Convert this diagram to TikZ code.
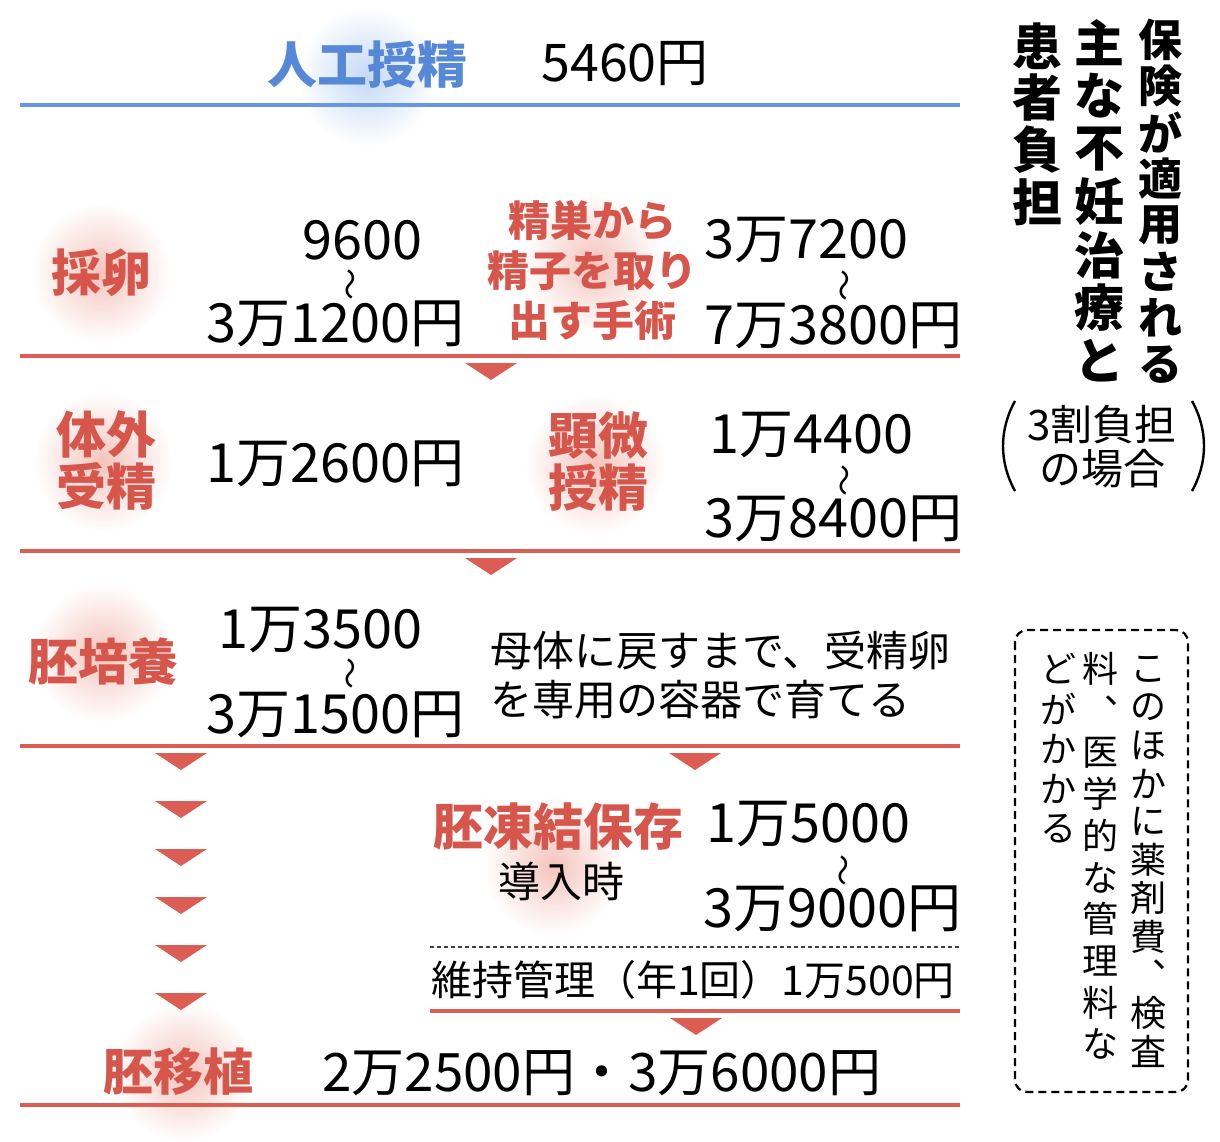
\documentclass[tikz,border=0pt]{standalone}
\usepackage{fontspec}
\newfontfamily\jp{Noto Sans CJK JP}
\usetikzlibrary{positioning}

\definecolor{linered}{RGB}{219,93,83}
\definecolor{labelred}{RGB}{214,86,76}
\definecolor{lineblue}{RGB}{104,150,224}
\definecolor{labelblue}{RGB}{86,136,216}
\definecolor{glowred}{RGB}{243,196,188}
\definecolor{glowblue}{RGB}{196,216,246}

\newcommand{\drop}[2]{\fill[linered] (#1-26,#2) -- (#1+26,#2) -- (#1,#2+17) -- cycle;}
\newcommand{\halo}[3]{\shade[inner color=#3,outer color=white] (#1,#2) circle (70);}

\begin{document}
\begin{tikzpicture}[x=1pt,y=-1pt,
	redrule/.style={draw=linered,line width=4pt},
	redlabel/.style={text=labelred,inner sep=0pt,align=center,font=\jp\bfseries\fontsize{50}{52}\selectfont},
	price/.style={inner sep=0pt,font=\jp\fontsize{54}{60}\selectfont},
	wave/.style={inner sep=0pt,rotate=90,font=\jp\fontsize{32}{32}\selectfont},
	plain/.style={inner sep=0pt,font=\jp\fontsize{42}{49}\selectfont},
	headch/.style={inner sep=0pt,font=\jp\bfseries\fontsize{#1}{#1}\selectfont},
	notech/.style={inner sep=0pt,font=\jp\fontsize{36}{36}\selectfont}]
			\useasboundingbox (0,0) rectangle (1220,1141);
			%%Halos
			\halo{367}{77}{glowblue}
			\halo{101}{273}{glowred}
			\halo{593}{263}{glowred}
			\halo{103}{462}{glowred}
			\halo{595}{465}{glowred}
			\halo{103}{653}{glowred}
			\halo{553}{866}{glowred}
			\halo{184}{1072}{glowred}
			
			%%Rules
			\draw[draw=lineblue,line width=4pt] (20,105) -- (960,105);
			\draw[redrule] (20,356) -- (960,356);
			\draw[redrule] (20,551) -- (960,551);
			\draw[redrule] (20,746) -- (960,746);
			\draw[redrule] (430,1011) -- (960,1011);
			\draw[redrule] (20,1105) -- (960,1105);
			\draw[line width=1.3pt,dash pattern=on 4pt off 3pt,draw=black!75] (430,947) -- (959,947);
			
			%%Arrowheads
			\drop{491}{363}
			\drop{491}{558}
			\drop{695}{753}
			\drop{696}{1018}
			\foreach \yy in {753,801,849,897,945,993}
			{\drop{181}{\yy}}
			
			%%Labels
			\node[redlabel,text=labelblue] (aih) at (367,65) {人工授精};
			\node[price,font=\jp\fontsize{52}{56}\selectfont] (aihcost) at (625,64) {5460円};
			
			\node[redlabel] (egg) at (101,273) {採卵};
			\node[price,anchor=east] (eggmin) at (423,240) {9600};
			\node[wave] (eggto) at (354,284) {〜};
			\node[price,anchor=east] (eggmax) at (465,324) {3万1200円};
			\node[redlabel,font=\jp\bfseries\fontsize{42}{50}\selectfont] (tese) at (592,270) {精巣から\\精子を取り\\出す手術};
			\node[price,anchor=west] (tesemin) at (704,240) {3万7200};
			\node[wave] (teseto) at (848,285) {〜};
			\node[price,anchor=west] (tesemax) at (704,326) {7万3800円};
			
			\node[redlabel] (ivf) at (106,461) {体外\\受精};
			\node[price,anchor=east] (ivfcost) at (465,464) {1万2600円};
			\node[redlabel] (icsi) at (598,462) {顕微\\授精};
			\node[price,anchor=west] (icsimin) at (709,435) {1万4400};
			\node[wave] (icsito) at (848,480) {〜};
			\node[price,anchor=west] (icsimax) at (704,519) {3万8400円};
			
			\node[redlabel] (cult) at (103,661) {胚培養};
			\node[price,anchor=east] (cultmin) at (423,630) {1万3500};
			\node[wave] (cultto) at (354,673) {〜};
			\node[price,anchor=east] (cultmax) at (465,715) {3万1500円};
			\node[plain,anchor=west,align=left] (cultnote) at (490,675) {母体に戻すまで、受精卵\\を専用の容器で育てる};
			
			\node[redlabel] (frz) at (558,826) {胚凍結保存};
			\node[plain] (frzsub) at (561,881) {導入時};
			\node[price,anchor=west] (frzmin) at (706,824) {1万5000};
			\node[wave] (frzto) at (847,870) {〜};
			\node[price,anchor=west] (frzmax) at (703,909) {3万9000円};
			\node[plain,anchor=west,font=\jp\fontsize{41}{44}\selectfont] (keep) at (431,980) {維持管理（年1回）1万500円};
			
			\node[redlabel] (et) at (178,1072) {胚移植};
			\node[price,anchor=west,font=\jp\fontsize{53}{58}\selectfont] (etcost) at (322,1073) {2万2500円・3万6000円};
			
			%%Heading
			\foreach \ch [count=\i] in {保,険,が,適,用,さ,れ,る}
			\node[headch=44] (ha\i) at (1160,{40+(\i-1)*46.3}) {\ch};
			\foreach \ch [count=\i] in {主,な,不,妊,治,療,と}
			\node[headch=50] (hb\i) at (1099,{43+(\i-1)*53}) {\ch};
			\foreach \ch [count=\i] in {患,者,負,担}
			\node[headch=50] (hc\i) at (1037,{46+(\i-1)*52}) {\ch};
			\node[plain,align=center,font=\jp\fontsize{42}{44}\selectfont] (rate) at (1102,447) {3割負担\\の場合};
			\draw[line width=2.4pt] (1015,401) .. controls (999,430) and (999,462) .. (1015,491);
			\draw[line width=2.4pt] (1192,401) .. controls (1208,430) and (1208,462) .. (1192,491);
			
			%%Note
			\draw[line width=2.2pt,dash pattern=on 8pt off 5pt,rounded corners=12pt] (1015,630) rectangle (1188,1092);
			\foreach \ch [count=\i] in {こ,の,ほ,か,に,薬,剤,費,︑,検,査}
			\node[notech] (na\i) at (1148,{669+(\i-1)*38.2}) {\ch};
			\foreach \ch [count=\i] in {料,︑,医,学,的,な,管,理,料,な}
			\node[notech] (nb\i) at (1100,{669+(\i-1)*41.7}) {\ch};
			\foreach \ch [count=\i] in {ど,が,か,か,る}
			\node[notech] (nc\i) at (1058,{669+(\i-1)*40}) {\ch};
\end{tikzpicture}
\end{document}
